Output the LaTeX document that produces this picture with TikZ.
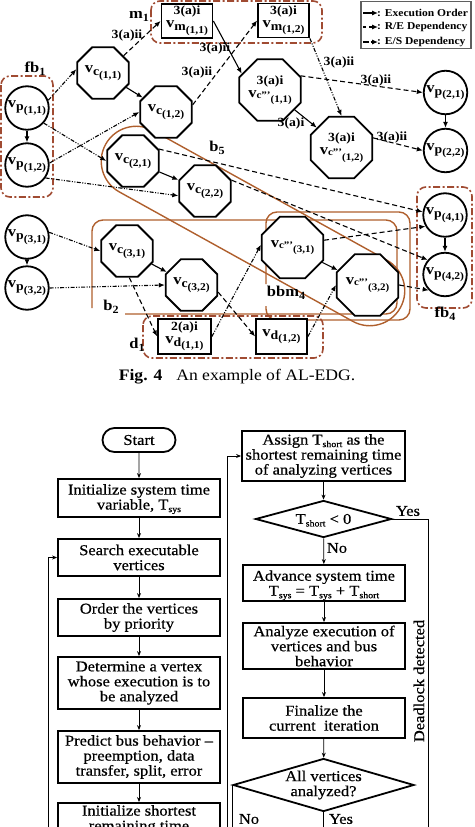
\documentclass[tikz,border=0pt]{standalone}
\usepackage{fontspec}
\setmainfont{Liberation Serif}[FakeStretch=1.1]
\newfontfamily\flowfont{Liberation Serif}[FakeStretch=1.1,FakeBold=0.6,Ligatures=TeX]
\usetikzlibrary{shapes.geometric,shapes.misc,arrows.meta}
\definecolor{busbrown}{RGB}{175,95,45}
\definecolor{grpbrown}{RGB}{160,75,50}
\definecolor{leggray}{RGB}{95,95,95}
\newcommand{\vlbl}[2]{{\fontsize{15}{15}\selectfont\bfseries v}\raisebox{-3pt}{\fontsize{12.5}{12.5}\selectfont\bfseries #1}\raisebox{-5.5pt}{\fontsize{10.5}{10.5}\selectfont\bfseries #2}}
\newcommand{\vtrip}[1]{{\fontsize{15}{15}\selectfont\bfseries v}\raisebox{-1pt}{\fontsize{10}{10}\selectfont\bfseries c'''}\raisebox{-5.5pt}{\fontsize{10}{10}\selectfont\bfseries #1}}
\newcommand{\grplbl}[2]{{\fontsize{15}{15}\selectfont\bfseries #1}\raisebox{-3pt}{\fontsize{11}{11}\selectfont\bfseries #2}}
\newcommand{\sbs}[1]{\smash{\raisebox{-2.5pt}{\fontsize{9}{9}\selectfont #1}}}
\begin{document}
\begin{tikzpicture}[x=1pt,y=-1pt,
  vcirc/.style={circle,draw,fill=white,line width=1.8pt,minimum size=43.5pt,inner sep=0pt},
  voct/.style={regular polygon,regular polygon sides=8,draw,fill=white,line width=1.8pt,minimum size=49pt,inner sep=0pt,align=center,font=\fontsize{12.5}{13}\selectfont\bfseries},
  vrect/.style={rectangle,draw,fill=white,line width=1.8pt,minimum width=51pt,minimum height=34pt,inner sep=0pt,align=center,font=\fontsize{12.5}{13}\selectfont\bfseries},
  exe/.style={-{Latex[length=6pt,width=5pt]},line width=1.1pt},
  redep/.style={exe,dash pattern=on 5pt off 3pt},
  esdep/.style={exe,dash pattern=on 4pt off 1.5pt on 1pt off 1.5pt on 1pt off 1.5pt},
  grp/.style={draw=grpbrown,line width=1.6pt,dash pattern=on 7pt off 2.5pt on 2pt off 2.5pt,rounded corners=9pt},
  bus/.style={draw=busbrown,line width=1.4pt,rounded corners=11pt},
  elab/.style={font=\fontsize{12.5}{13}\selectfont\bfseries,inner sep=0pt},
  glab/.style={inner sep=0pt},
  legtxt/.style={font=\fontsize{10.5}{11}\selectfont\bfseries,inner sep=0pt,anchor=west},
  fnode/.style={draw,line width=1.8pt,inner sep=0pt,align=center,font=\flowfont\fontsize{15}{15}\selectfont},
  fbox/.style={fnode,rectangle,minimum width=162pt},
  ftxt/.style={inner sep=0pt,align=center,font=\flowfont\fontsize{15}{15}\selectfont},
  farr/.style={-{Stealth[length=5pt,width=4pt]},line width=0.8pt},
  fline/.style={line width=0.8pt}
]
\useasboundingbox (0,0) rectangle (474,827);
\clip (0,0) rectangle (474,827);

% ---------- bus groupings (behind) ----------
\node[draw=busbrown,line width=1.4pt,rounded rectangle,minimum width=337pt,minimum height=70pt,inner sep=0pt,rotate=-29] (b5s) at (253,226) {};
\draw[bus] (125,314) -| (397,220) -| (92,308);
\draw[bus] (266,284) |- (410,212) |- (266,320) -- (266,306);

% ---------- dash-dot groups ----------
\draw[grp] (1,76) rectangle (53,197);
\draw[grp] (151,1) rectangle (322,43);
\draw[grp] (417,187) rectangle (472,308);
\draw[grp] (143,316) rectangle (323,358);

% ---------- vertices ----------
\node[vcirc] (p11) at (27,108) {\vlbl{p}{(1,1)}};
\node[vcirc] (p12) at (27,165) {\vlbl{p}{(1,2)}};
\node[vcirc] (p21) at (445.5,92.5) {\vlbl{p}{(2,1)}};
\node[vcirc] (p22) at (445.5,150.5) {\vlbl{p}{(2,2)}};
\node[vcirc] (p31) at (27,237) {\vlbl{p}{(3,1)}};
\node[vcirc] (p32) at (27,288) {\vlbl{p}{(3,2)}};
\node[vcirc] (p41) at (445,215) {\vlbl{p}{(4,1)}};
\node[vcirc] (p42) at (445,274.5) {\vlbl{p}{(4,2)}};

\node[voct] (c11) at (103,73) {\vlbl{c}{(1,1)}};
\node[voct] (c12) at (166,112) {\vlbl{c}{(1,2)}};
\node[voct] (c21) at (133,161) {\vlbl{c}{(2,1)}};
\node[voct] (c22) at (205,191) {\vlbl{c}{(2,2)}};
\node[voct] (c31) at (127,251) {\vlbl{c}{(3,1)}};
\node[voct] (c32) at (191.5,285) {\vlbl{c}{(3,2)}};
\node[voct] (ct11) at (270,90) {3(a)i\\\vtrip{(1,1)}};
\node[voct] (ct12) at (341.5,147.5) {3(a)i\\\vtrip{(1,2)}};
\node[voct] (ct31) at (292.5,247.5) {\vtrip{(3,1)}};
\node[voct] (ct32) at (367.5,285) {\vtrip{(3,2)}};

\node[vrect] (m11) at (187,21) {3(a)i\\\vlbl{m}{(1,1)}};
\node[vrect] (m12) at (283.5,20.5) {3(a)i\\\vlbl{m}{(1,2)}};
\node[vrect,minimum width=53pt,minimum height=35pt] (d11) at (184.5,336.5) {2(a)i\\\vlbl{d}{(1,1)}};
\node[vrect,minimum height=35pt] (d12) at (281.5,336.5) {\vlbl{d}{(1,2)}};

% ---------- group labels ----------
\node[glab] (lfb1) at (35,69) {\grplbl{fb}{1}};
\node[glab] (lm1) at (139,16) {\grplbl{m}{1}};
\node[glab] (lb5) at (217,148) {\grplbl{b}{5}};
\node[glab] (lb2) at (111,307) {\grplbl{b}{2}};
\node[glab] (lbbm4) at (286,293) {\grplbl{bbm}{4}};
\node[glab] (ld1) at (137,345) {\grplbl{d}{1}};
\node[glab] (lfb4) at (445,314) {\grplbl{fb}{4}};

% ---------- connectors ----------
\draw[exe] (p11) -- (p12);
\draw[esdep] (p11.20) -- (c11.172);
\draw[esdep] (p11.-42) -- (c21.180);
\draw[esdep] (p12.5) -- (c12.180);
\draw[esdep] (p12.-35) -- (c22.190);
\draw[exe] (c11) -- (c12);
\draw[redep] (c11.40) -- (m11.west);
\draw[exe] (m11.east) -- (ct11.150);
\draw[redep] (c12.15) -- (m12.west);
\draw[esdep] (m12.south east) -- (ct12.north);
\draw[exe] (ct11) -- (ct12);
\draw[redep] (ct11.25) -- (p21.180);
\draw[redep] (ct12.17) -- (p22.180);
\draw[exe] (p21) -- (p22);
\draw[exe] (c21) -- (c22);
\draw[redep] (c21.25) -- (p41.172);
\draw[redep] (c22.22) -- (p42.140);
\draw[exe] (p41) -- (p42);
\draw[exe] (p31) -- (p32);
\draw[esdep] (p31.12) -- (c31.180);
\draw[esdep] (p32.east) -- (c32.west);
\draw[exe] (c31) -- (c32);
\draw[redep] (c31.-85) -- (d11.west);
\draw[redep] (c32.-15) -- (d12.west);
\draw[esdep] (d11.east) -- (ct31.175);
\draw[esdep] (d12.east) -- (ct32.180);
\draw[exe] (ct31) -- (ct32);
\draw[redep] (ct31.13) -- (p41.210);
\draw[redep] (ct32.0) -- (p42.224);

% ---------- edge labels ----------
\node[elab] (e1) at (127,35) {3(a)ii};
\node[elab] (e2) at (215,48) {3(a)ii};
\node[elab] (e3) at (197,72) {3(a)ii};
\node[elab] (e4) at (339,62) {3(a)ii};
\node[elab] (e5) at (376,80) {3(a)ii};
\node[elab] (e6) at (392,137) {3(a)ii};
\node[elab] (e7) at (291,123) {3(a)i};

% ---------- legend ----------
\node[draw=leggray,fill=white,line width=1.5pt,minimum width=110pt,minimum height=47pt,inner sep=0pt] (leg) at (416,25) {};
\coordinate (lg1a) at (363,13); \coordinate (lg1b) at (378,13);
\coordinate (lg2a) at (363,27); \coordinate (lg2b) at (378,27);
\coordinate (lg3a) at (363,42); \coordinate (lg3b) at (378,42);
\draw[exe] (lg1a) -- (lg1b);
\draw[redep,dash pattern=on 3pt off 3pt] (lg2a) -- (lg2b);
\draw[esdep,dash pattern=on 6pt off 1.5pt] (lg3a) -- (lg3b);
\node[legtxt] (lt1) at (377,13) {: Execution Order};
\node[legtxt] (lt2) at (377,27) {: R/E Dependency};
\node[legtxt] (lt3) at (377,42) {: E/S Dependency};

% ---------- caption ----------
\node[inner sep=0pt,font=\fontsize{16}{16}\selectfont] (cap) at (237,377) {\textbf{Fig. 4}\hspace{14pt}An example of AL-EDG.};

% ---------- flowchart ----------
\node[fnode,rounded rectangle,minimum width=73pt,minimum height=24pt] (st) at (139,440) {Start};
\node[fbox,minimum height=38pt] (f1) at (139,498) {Initialize system time\\variable, T\sbs{sys}};
\node[fbox,minimum height=37pt] (f2) at (139,557.5) {Search executable\\vertices};
\node[fbox,minimum height=37pt] (f3) at (139,617.5) {Order the vertices\\by priority};
\node[fbox,minimum height=52pt] (f4) at (139,683) {Determine a vertex\\whose execution is to\\be analyzed};
\node[fbox,minimum height=52pt] (f5) at (139,757) {Predict bus behavior –\\preemption, data\\transfer, split, error};
\node[fbox,anchor=north,minimum height=60pt,text depth=30pt,inner ysep=2pt] (f6) at (139,802) {Initialize shortest\\remaining time};

\node[fbox,minimum width=163pt,minimum height=50pt] (fa) at (323.5,456) {Assign T\sbs{short} as the\\shortest remaining time\\of analyzing vertices};
\node[fnode,diamond,minimum width=136pt,minimum height=37pt] (fd1) at (323.5,519) {};
\node[ftxt] (fd1t) at (323.5,519) {T\sbs{short} {<} 0};
\node[fbox,minimum height=36pt] (fb) at (324,583) {Advance system time\\T\sbs{sys} = T\sbs{sys} + T\sbs{short}};
\node[fbox,minimum height=46pt] (fc) at (324,646) {Analyze execution of\\vertices and bus\\behavior};
\node[fbox,minimum height=40pt] (fdd) at (324,718) {Finalize the\\current\ \ iteration};
\node[fnode,diamond,minimum width=181pt,minimum height=53pt] (fd2) at (323.5,785) {};
\node[ftxt] (fd2t) at (323.5,785) {All vertices\\analyzed?};

\draw[farr] (st) -- (f1);
\draw[farr] (f1) -- (f2);
\draw[farr] (f2) -- (f3);
\draw[farr] (f3) -- (f4);
\draw[farr] (f4) -- (f5);
\draw[farr] (f5) -- (f6);
\draw[farr] (fa) -- (fd1);
\draw[farr] (fd1) -- (fb);
\draw[farr] (fb) -- (fc);
\draw[farr] (fc) -- (fdd);
\draw[farr] (fdd) -- (fd2);

\coordinate (yesend) at (428,840);
\draw[fline] (fd1.east) -| (yesend);
\coordinate (loopa) at (227,840);
\draw[farr] (loopa) |- (fa.west);
\coordinate (loopb) at (48,840);
\draw[farr] (loopb) |- (f2.west);
\path (fd2.west) ++(0,60) coordinate (noend);
\draw[fline] (fd2.west) -- (noend);
\path (fd2.south) ++(0,40) coordinate (yes2end);
\draw[fline] (fd2.south) -- (yes2end);

\node[ftxt] (ly1) at (408,511) {Yes};
\node[ftxt] (ln1) at (337,548) {No};
\node[ftxt,rotate=90] (ldl) at (419,681) {Deadlock detected};
\node[ftxt] (ln2) at (249,819) {No};
\node[ftxt] (ly2) at (341,819) {Yes};
\end{tikzpicture}
\end{document}
